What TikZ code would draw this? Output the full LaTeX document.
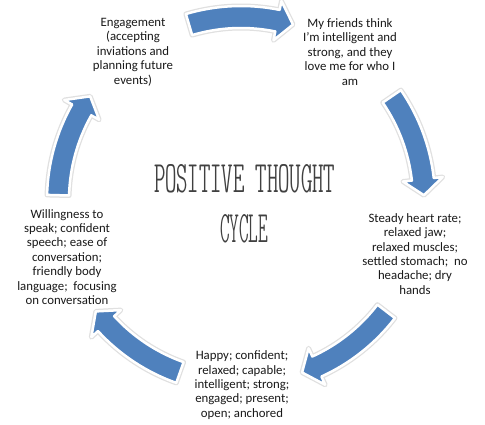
\documentclass[tikz,border=0pt]{standalone}
\usepackage{fontspec}
\usepackage{graphicx}
\setmainfont{Carlito}
\newfontfamily\titlefont{lmmonoltcond10-regular.otf}
\usetikzlibrary{calc}
\definecolor{arrowblue}{HTML}{4F81BD}
\tikzset{
  txt/.style={align=center, font=\fontsize{12.8}{14.4}\selectfont, text=black!90, inner sep=0pt},
  ttl/.style={inner sep=0pt, text=black!75},
  arrowshadow/.style={draw=black!12, line width=5pt, line join=round},
  arrowbody/.style={fill=arrowblue, draw=white, line width=2.5pt, line join=round}
}
\newcommand\cyclearrow[1]{%
  \pgfmathsetmacro\aT{#1+16.5}%
  \pgfmathsetmacro\aB{#1-11.5}%
  \pgfmathsetmacro\aP{#1-16.5}%
  \draw[arrowshadow, shift={(0.8pt,-1.2pt)}] ($(C)+(\aT:194pt)$) arc[start angle=\aT, end angle=\aB, radius=194pt]
     -- ($(C)+(\aB:203pt)$) -- ($(C)+(\aP:183pt)$) -- ($(C)+(\aB:163pt)$) -- ($(C)+(\aB:172pt)$)
     arc[start angle=\aB, end angle=\aT, radius=172pt] -- cycle;
  \draw[arrowbody] ($(C)+(\aT:194pt)$) arc[start angle=\aT, end angle=\aB, radius=194pt]
     -- ($(C)+(\aB:203pt)$) -- ($(C)+(\aP:183pt)$) -- ($(C)+(\aB:163pt)$) -- ($(C)+(\aB:172pt)$)
     arc[start angle=\aB, end angle=\aT, radius=172pt] -- cycle;
}
\begin{document}
\begin{tikzpicture}[x=1pt,y=1pt]
\useasboundingbox (0,0) rectangle (485,424);
\fill[white] (0,0) rectangle (485,424);
\coordinate (C) at (241,224);

\cyclearrow{90}
\cyclearrow{18}
\cyclearrow{-54}
\cyclearrow{-126}
\cyclearrow{162}

\node[txt] (eng) at (133,372) {Engagement\\(accepting\\inviations and\\planning future\\events)};
\node[txt] (friends) at (350,372) {My friends think\\I'm intelligent and\\strong, and they\\love me for who I\\am};
\node[txt] (steady) at (415,170) {Steady heart rate;\\relaxed jaw;\\relaxed muscles;\\settled stomach;\ \ no\\headache; dry\\hands};
\node[txt] (happy) at (242,39) {Happy; confident;\\relaxed; capable;\\intelligent; strong;\\engaged; present;\\open; anchored};
\node[txt] (willing) at (67,167) {Willingness to\\speak; confident\\speech; ease of\\conversation;\\friendly body\\language;\ \ focusing\\on conversation};

\node[ttl] (title1) at (244.5,245) {\resizebox{181pt}{28pt}{\titlefont POSITIVE THOUGHT}};
\node[ttl] (title2) at (244,195) {\resizebox{48pt}{28pt}{\titlefont CYCLE}};
\end{tikzpicture}
\end{document}
